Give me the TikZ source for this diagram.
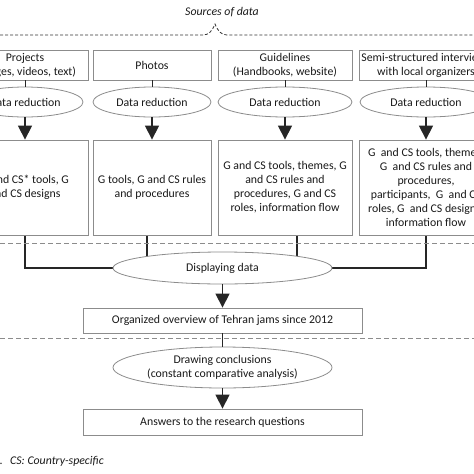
\documentclass[tikz,border=0pt]{standalone}
\usepackage{fontspec}
\setmainfont{Carlito}
\usetikzlibrary{arrows.meta,shapes.geometric,backgrounds}
\begin{document}
\begin{tikzpicture}[x=1pt,y=-1pt,
 font=\fontsize{11.8}{14}\selectfont, text=black!90,
 box/.style={draw=black!45, line width=0.8pt, fill=white, rectangle, align=center, inner sep=1pt},
 ell/.style={draw=black!45, line width=0.8pt, fill=white, ellipse, inner sep=0pt, align=center},
 conn/.style={draw=black!85, line width=1.3pt},
 thin conn/.style={draw=black!85, line width=1pt},
 arr/.style={conn, -{Triangle[length=14pt,width=14pt]}},
 sep/.style={draw=black!45, line width=0.8pt, dash pattern=on 5pt off 3pt},
 topdash/.style={draw=black!80, line width=0.8pt, dash pattern=on 3pt off 2pt},
 note/.style={font=\fontsize{11.8}{14}\selectfont\itshape},
]
\useasboundingbox (0,0) rectangle (474,474);

% sources
\node[note] (src) at (222,12) {Sources of data};
\draw[topdash] (0,35) -- (203,35) .. controls (209,35) and (212,31) .. (215,24)
  .. controls (218,31) and (221,35) .. (227,35) -- (474,35);

% top row boxes
\node[box, minimum width=126pt, minimum height=30pt] (s1) at (25,65) {Projects\\(Images, videos, text)};
\node[box, minimum width=118pt, minimum height=30pt] (s2) at (152,65) {Photos};
\node[box, minimum width=134pt, minimum height=30pt] (s3) at (285,65) {Guidelines\\(Handbooks, website)};
\node[box, minimum width=134pt, minimum height=30pt] (s4) at (426,65) {Semi-structured interviews\\with local organizers};

% data reduction ellipses
\node[ell, minimum width=116pt, minimum height=30pt] (e1) at (25,102) {Data reduction};
\node[ell, minimum width=118pt, minimum height=30pt] (e2) at (152,102) {Data reduction};
\node[ell, minimum width=134pt, minimum height=30pt] (e3) at (285,102) {Data reduction};
\node[ell, minimum width=132pt, minimum height=30pt] (e4) at (426,102) {Data reduction};

% second row boxes
\node[box, minimum width=126pt, minimum height=95pt] (b1) at (25,187.5) {G and CS* tools, G\\and CS designs};
\node[box, minimum width=118pt, minimum height=95pt] (b2) at (152,187.5) {G tools, G and CS rules\\and procedures};
\node[box, minimum width=134pt, minimum height=95pt] (b3) at (285,187.5) {G and CS tools, themes, G\\and CS rules and\\procedures, G and CS\\roles, information flow};
\node[box, minimum width=134pt, minimum height=95pt] (b4) at (426,187.5) {G\ \ and CS tools, themes,\\G\ \ and CS rules and\\procedures,\\participants,\ \ G\ \ and CS\\roles, G\ \ and CS designs,\\information flow};

\foreach \i in {1,2,3,4} {
  \draw[thin conn] (s\i) -- (e\i);
  \draw[arr] (e\i) -- (b\i);
}

\draw[sep] (0,243) -- (474,243);

% displaying data
\node[ell, minimum width=219pt, minimum height=32pt] (disp) at (222.5,268) {Displaying data};

\begin{pgfonlayer}{background}
\draw[conn] (b1.south) |- (disp.west);
\draw[conn] ([xshift=-5pt]b2.south) -- ([xshift=-5pt]b2.south |- disp.center);
\draw[conn] ([xshift=12pt]b3.south) -- ([xshift=12pt]b3.south |- disp.center);
\draw[conn] (b4.south) |- (disp.east);
\end{pgfonlayer}

\node[box, minimum width=279pt, minimum height=25pt] (org) at (222.5,320.5) {Organized overview of Tehran jams since 2012};
\draw[arr] (disp) -- (org);

\draw[sep] (0,338) -- (474,338);

\node[ell, minimum width=219pt, minimum height=41pt] (concl) at (222.5,367.5) {Drawing conclusions\\(constant comparative analysis)};
\draw[thin conn] (org) -- (concl);

\node[box, minimum width=279pt, minimum height=26pt] (ans) at (222.5,422) {Answers to the research questions};
\draw[arr] (concl) -- (ans);

% footnote
\node[note, anchor=base west, inner sep=0pt] (fn) at (10,464) {CS: Country-specific};
\node[note, anchor=base east, inner sep=0pt] (fn0) at (3,464) {G: General.};
\end{tikzpicture}
\end{document}
